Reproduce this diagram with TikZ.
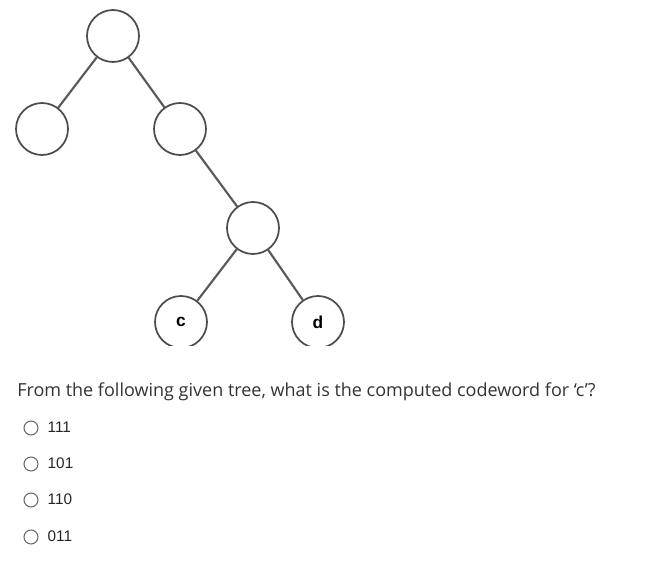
\documentclass[tikz,border=0pt]{standalone}
\usepackage{fontspec}
\setmainfont{Open Sans}
\newfontfamily\optfont{Liberation Sans}
\newfontfamily\lblfont{Liberation Sans}[BoldFont={Liberation Sans Bold}]
\begin{document}
\begin{tikzpicture}[x=0.75pt,y=-0.75pt,
  tn/.style={circle,draw=black!70,line width=1.3pt,minimum size=52*0.75pt,inner sep=0pt,font=\lblfont\bfseries\fontsize{13}{13}\selectfont},
  edge/.style={draw=black!65,line width=1.6pt},
  radio/.style={circle,draw=black!60,line width=0.8pt,minimum size=14*0.75pt,inner sep=0pt},
  opt/.style={anchor=west,font=\optfont\fontsize{11.5}{12}\selectfont,text=black!85}]
\useasboundingbox (0,0) rectangle (658,573);
\node[tn] (r) at (113,36) {};
\node[tn] (l) at (42,129) {};
\node[tn] (rr) at (180,129) {};
\node[tn] (m) at (253,228) {};
\begin{scope}
\clip (0,0) rectangle (658,346);
\node[tn] (c) at (181,322) {c};
\node[tn] (d) at (318,322) {d};
\end{scope}
\draw[edge] (r) -- (l);
\draw[edge] (r) -- (rr);
\draw[edge] (rr) -- (m);
\draw[edge] (m) -- (c);
\draw[edge] (m) -- (d);
\node[anchor=base west,inner sep=0pt,font=\fontsize{13.5}{14}\selectfont,text=black!80] (q) at (17,397) {From the following given tree, what is the computed codeword for ‘c’?};
\node[radio] (o1) at (31,428) {};
\node[opt] (t1) at (43,427) {111};
\node[radio] (o2) at (31,464) {};
\node[opt] (t2) at (43,463) {101};
\node[radio] (o3) at (31,500) {};
\node[opt] (t3) at (43,499) {110};
\node[radio] (o4) at (31,537) {};
\node[opt] (t4) at (43,536) {011};
\end{tikzpicture}
\end{document}
